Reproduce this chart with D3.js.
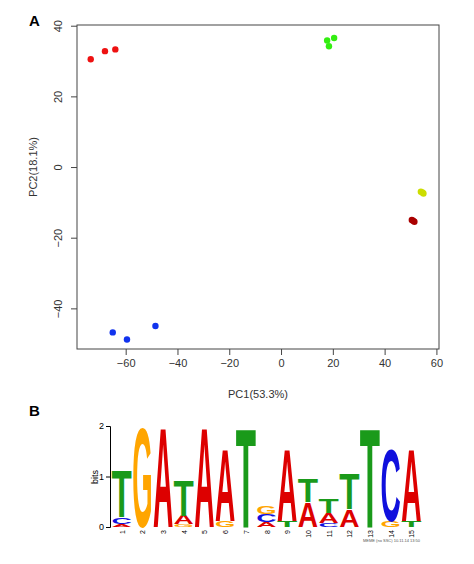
<!DOCTYPE html>
<html><head><meta charset="utf-8">
<script src="https://cdn.jsdelivr.net/npm/d3@7"></script>
<style>body{margin:0;background:#fff}text{font-family:"Liberation Sans",Arial,sans-serif}</style>
</head><body><div id="chart"></div>
<script>
// PCA data
var groups=["red","green","yellow","darkred","blue"];
var groupColors=["#ee1111","#33ee11","#ccdd00","#aa0000","#1133ee"];
var pc1=[[-73.5,-68,-64],[17.8,18.5,20.5],[54,55,54.6],[50.5,51.5,51],[-65,-59.5,-48.5]];
var pc2=[[30.5,32.8,33.3],[35.8,34.2,36.5],[-7,-7.5,-7.2],[-15,-15.5,-15.2],[-46.8,-48.8,-45]];
var xTicks=[-60,-40,-20,0,20,40,60];
var yTicks=[-40,-20,0,20,40];
// motif logo, stacks bottom->top [letter,bits]
var positions=["1","2","3","4","5","6","7","8","9","10","11","12","13","14","15"];
var stacks=[
 [["A",0.06],["C",0.14],["T",0.95]],
 [["G",2]],
 [["A",2]],
 [["G",0.05],["A",0.17],["T",0.7]],
 [["A",2]],
 [["G",0.12],["A",1.45]],
 [["T",2]],
 [["A",0.1],["C",0.15],["G",0.15]],
 [["T",0.12],["A",1.45]],
 [["A",0.5],["T",0.48]],
 [["C",0.08],["A",0.2],["T",0.3]],
 [["A",0.35],["T",0.71]],
 [["T",2]],
 [["G",0.12],["C",1.45]],
 [["T",0.12],["A",1.45]]
];
var letterColors={A:"#dd0000",C:"#1010dd",G:"#ffa500",T:"#1a9a1a"};

var svg=d3.select("#chart").append("svg").attr("width",474).attr("height",564);
var grey="#444";

// panel A
var x=d3.scaleLinear().domain([-78.8,61]).range([77,439]);
var y=d3.scaleLinear().domain([-51.5,40.2]).range([349,25]);
svg.append("rect").attr("x",77).attr("y",25).attr("width",362).attr("height",324)
 .attr("fill","none").attr("stroke",grey);
var xa=svg.append("g").attr("transform","translate(0,349)")
 .call(d3.axisBottom(x).tickValues(xTicks).tickSize(6).tickPadding(4).tickFormat(function(d){return d<0?"\u2212"+(-d):d;}));
var ya=svg.append("g").attr("transform","translate(77,0)")
 .call(d3.axisLeft(y).tickValues(yTicks).tickSize(6).tickFormat(function(d){return d<0?"\u2212"+(-d):d;}));
[xa,ya].forEach(function(a){a.select(".domain").remove();a.selectAll("line").attr("stroke",grey);
 a.selectAll("text").attr("fill","#333").style("font-size","11px");});
ya.selectAll(".tick text").attr("transform","rotate(-90)").attr("text-anchor","middle").attr("x",0).attr("y",-15).attr("dy","0");
svg.append("text").attr("x",258).attr("y",398).attr("text-anchor","middle").attr("font-size",11).attr("fill","#333").text("PC1(53.3%)");
svg.append("text").attr("transform","translate(37,167) rotate(-90)").attr("text-anchor","middle").attr("font-size",11).attr("fill","#333").text("PC2(18.1%)");
groups.forEach(function(g,i){
 svg.append("g").selectAll("circle").data(pc1[i]).enter().append("circle")
  .attr("cx",function(d){return x(d);}).attr("cy",function(d,j){return y(pc2[i][j]);})
  .attr("r",3.2).attr("fill",groupColors[i]);
});
svg.append("text").attr("x",29).attr("y",26).attr("font-size",15).attr("font-weight","bold").text("A");
svg.append("text").attr("x",29).attr("y",416).attr("font-size",15).attr("font-weight","bold").text("B");

// panel B
var lx=d3.scaleBand().domain(positions).range([111.5,421.5]).paddingInner(0.02);
var ly=d3.scaleLinear().domain([0,2]).range([527,426]);
var la=svg.append("g").attr("transform","translate(110,0)").call(d3.axisLeft(ly).ticks(2).tickSize(4).tickPadding(2));
la.selectAll("text").style("font-size","9px");
svg.append("text").attr("transform","translate(98,477) rotate(-90)").attr("text-anchor","middle").attr("font-size",9).text("bits");
var px=svg.append("g").selectAll("text").data(positions).enter().append("text")
 .attr("transform",function(d){return "translate("+(lx(d)+lx.bandwidth()/2+3)+",530) rotate(-90)";})
 .attr("text-anchor","end").attr("font-size",7).text(function(d){return d;});
var capH=0.72;
stacks.forEach(function(st,i){
 var base=0,cx=lx(positions[i]),w=lx.bandwidth();
 st.forEach(function(s){
  var top=ly(base+s[1]),bot=ly(base);base+=s[1];
  var h=bot-top;if(h<0.5)return;
  var t=svg.append("text").attr("font-size",100).attr("font-weight","bold").attr("fill",letterColors[s[0]]).text(s[0]);
  var bb=t.node().getBBox();
  var sx=w/bb.width,sy=h/(100*capH);
  t.attr("transform","translate("+cx+","+bot+") scale("+sx+","+sy+") translate("+(-bb.x)+",0)");
 });
});
svg.append("text").attr("x",363).attr("y",542).attr("font-size",4).attr("fill","#555").text("MEME (no SSC) 10.11.14 13:50");
</script></body></html>
